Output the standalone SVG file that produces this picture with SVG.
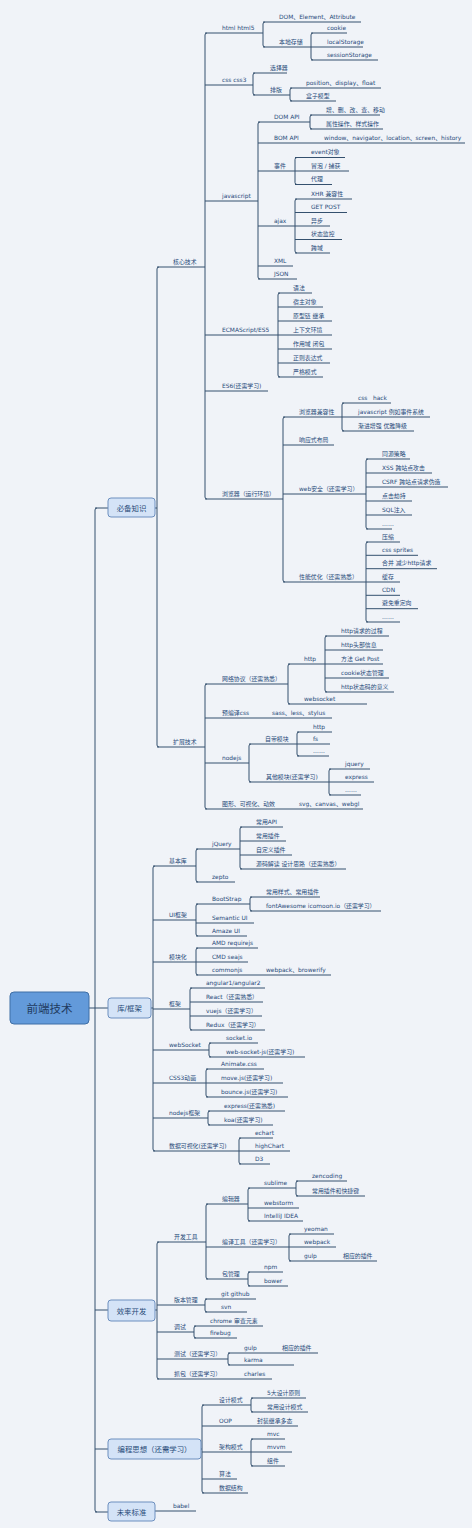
<svg xmlns="http://www.w3.org/2000/svg" width="474" height="1531" viewBox="0 0 474 1531">
<style>
.t{font-family:"DejaVu Sans","Noto Sans CJK SC",sans-serif;font-size:5.9px;fill:#274A78;white-space:pre}
.u,.b{fill:none;stroke:#34506E;stroke-width:1}
.l1{fill:#D4E3F7;stroke:#6C8FBF;stroke-width:1}
.l1t{font-family:"DejaVu Sans","Noto Sans CJK SC",sans-serif;font-size:7.4px;fill:#274A78;text-anchor:middle}
</style>
<rect x="0" y="0" width="474" height="1531" fill="#FFFFFF"/>
<rect x="0" y="0" width="472" height="1528" fill="#F0F3F8"/>
<g id="connectors">
<path class="b" d="M89 1008H108"/>
<path class="b" d="M97 508Q95 508 95 510V1510Q95 1512 97 1512"/>
<path class="b" d="M95 508H108M95 1310H108M95 1449H108M95 1512H108"/>
<path class="b" d="M155 508H157M151 1008H153M155 1310H157M201 1449H202M155 1511H196"/>
<path class="b" d="M159 267Q157 267 157 269V745Q157 747 159 747"/>
<path class="b" d="M207 33Q205 33 205 35V497Q205 499 207 499"/>
<path class="b" d="M265 22Q263 22 263 24V45Q263 47 265 47"/>
<path class="b" d="M313 33Q311 33 311 35V58Q311 60 313 60"/>
<path class="b" d="M255 73Q253 73 253 75V93Q253 95 255 95"/>
<path class="b" d="M292 88Q290 88 290 90V99Q290 101 292 101"/>
<path class="b" d="M260 122Q258 122 258 124V277Q258 279 260 279"/>
<path class="b" d="M312 115Q310 115 310 117V127Q310 129 312 129"/>
<path class="b" d="M297 157.5Q295 157.5 295 159.5V182.5Q295 184.5 297 184.5"/>
<path class="b" d="M297 199Q295 199 295 201V251Q295 253 297 253"/>
<path class="b" d="M280 293Q278 293 278 295V375Q278 377 280 377"/>
<path class="b" d="M285 417Q283 417 283 419V580Q283 582 285 582"/>
<path class="b" d="M344 403Q342 403 342 405V429Q342 431 344 431"/>
<path class="b" d="M368 459Q366 459 366 461V527Q366 529 368 529"/>
<path class="b" d="M368 542Q366 542 366 544V620Q366 622 368 622"/>
<path class="b" d="M207 684Q205 684 205 686V807Q205 809 207 809"/>
<path class="b" d="M290 664Q288 664 288 666V702Q288 704 290 704"/>
<path class="b" d="M327 636Q325 636 325 638V690Q325 692 327 692"/>
<path class="b" d="M251 744Q249 744 249 746V780Q249 782 251 782"/>
<path class="b" d="M299 732Q297 732 297 734V754Q297 756 299 756"/>
<path class="b" d="M331 769Q329 769 329 771V793Q329 795 331 795"/>
<path class="b" d="M155 866Q153 866 153 868V1149Q153 1151 155 1151"/>
<path class="b" d="M198 849Q196 849 196 851V880Q196 882 198 882"/>
<path class="b" d="M242 827Q240 827 240 829V867Q240 869 242 869"/>
<path class="b" d="M198 904Q196 904 196 906V934Q196 936 198 936"/>
<path class="b" d="M252 897Q250 897 250 899V909Q250 911 252 911"/>
<path class="b" d="M198 948Q196 948 196 950V973Q196 975 198 975"/>
<path class="b" d="M192 988Q190 988 190 990V1028Q190 1030 192 1030"/>
<path class="b" d="M211 1043Q209 1043 209 1045V1055Q209 1057 211 1057"/>
<path class="b" d="M208 1069Q206 1069 206 1071V1095Q206 1097 208 1097"/>
<path class="b" d="M210 1111Q208 1111 208 1113V1123Q208 1125 210 1125"/>
<path class="b" d="M241 1138Q239 1138 239 1140V1162Q239 1164 241 1164"/>
<path class="b" d="M159 1242Q157 1242 157 1244V1377Q157 1379 159 1379"/>
<path class="b" d="M208 1204Q206 1204 206 1206V1277Q206 1279 208 1279"/>
<path class="b" d="M250 1188Q248 1188 248 1190V1219Q248 1221 250 1221"/>
<path class="b" d="M298 1181Q296 1181 296 1183V1194Q296 1196 298 1196"/>
<path class="b" d="M291 1234Q289 1234 289 1236V1259Q289 1261 291 1261"/>
<path class="b" d="M250 1272Q248 1272 248 1274V1284Q248 1286 250 1286"/>
<path class="b" d="M207 1299Q205 1299 205 1301V1310Q205 1312 207 1312"/>
<path class="b" d="M196 1326Q194 1326 194 1328V1336Q194 1338 196 1338"/>
<path class="b" d="M230 1353Q228 1353 228 1355V1363Q228 1365 230 1365"/>
<path class="b" d="M204 1405Q202 1405 202 1407V1491Q202 1493 204 1493"/>
<path class="b" d="M253 1398Q251 1398 251 1400V1410Q251 1412 253 1412"/>
<path class="b" d="M253 1439Q251 1439 251 1441V1464Q251 1466 253 1466"/>
</g>
<g id="root"><rect x="10" y="992" width="79" height="32" rx="4" fill="#639ADA" stroke="#3F6FA6"/><text x="49.5" y="1012.5" style="font-family:'Noto Sans CJK SC',sans-serif;font-size:11.5px;fill:#1F3A5F;text-anchor:middle">前端技术</text></g>
<g id="bibei"><rect class="l1" x="108" y="498" width="47" height="19" rx="3"/><text class="l1t" x="131.5" y="510.5">必备知识</text></g>
<g id="kukuangjia"><rect class="l1" x="108" y="998" width="43" height="20" rx="3"/><text class="l1t" x="129.5" y="1011">库/框架</text></g>
<g id="xiaolv"><rect class="l1" x="108" y="1300" width="47" height="21" rx="3"/><text class="l1t" x="131.5" y="1313.5">效率开发</text></g>
<g id="biancheng"><rect class="l1" x="108" y="1439" width="93" height="20" rx="3"/><text class="l1t" x="154.5" y="1452">编程思想（还需学习）</text></g>
<g id="weilai"><rect class="l1" x="108" y="1502" width="47" height="19" rx="3"/><text class="l1t" x="131.5" y="1514.5">未来标准</text></g>

<g id="n-hexin"><path class="u" d="M157 267H205"/><text class="t" x="173" y="263.7">核心技术</text></g>
<g id="n-kuozhan"><path class="u" d="M157 747H205"/><text class="t" x="173" y="743.7">扩展技术</text></g>

<g id="n-html"><path class="u" d="M205 33H263"/><text class="t" x="222" y="29.7">html html5</text></g>
<g id="n-dom"><path class="u" d="M263 22H361"/><text class="t" x="279" y="18.7">DOM、Element、Attribute</text></g>
<g id="n-bendi"><path class="u" d="M263 47H311"/><text class="t" x="279" y="43.7">本地存储</text></g>
<g id="n-cookie"><path class="u" d="M311 33H347"/><text class="t" x="327" y="29.7">cookie</text></g>
<g id="n-local"><path class="u" d="M311 47H363"/><text class="t" x="327" y="43.7">localStorage</text></g>
<g id="n-session"><path class="u" d="M311 60H378"/><text class="t" x="327" y="56.7">sessionStorage</text></g>

<g id="n-css"><path class="u" d="M205 85H253"/><text class="t" x="222" y="81.7">css css3</text></g>
<g id="n-xuanze"><path class="u" d="M253 73H287"/><text class="t" x="270" y="69.7">选择器</text></g>
<g id="n-paiban"><path class="u" d="M253 95H290"/><text class="t" x="270" y="91.7">排版</text></g>
<g id="n-position"><path class="u" d="M290 88H381"/><text class="t" x="306" y="84.7">position、display、float</text></g>
<g id="n-hezi"><path class="u" d="M290 101H336"/><text class="t" x="306" y="97.7">盒子模型</text></g>

<g id="n-js"><path class="u" d="M205 201H258"/><text class="t" x="222" y="197.7">javascript</text></g>
<g id="n-domapi"><path class="u" d="M258 122H310"/><text class="t" x="274" y="118.7">DOM API</text></g>
<g id="n-zeng"><path class="u" d="M310 115H380"/><text class="t" x="326" y="111.7">增、删、改、查、移动</text></g>
<g id="n-shuxing"><path class="u" d="M310 129H383"/><text class="t" x="326" y="125.7">属性操作、样式操作</text></g>
<g id="n-bom"><path class="u" d="M258 143H465"/><text class="t" x="274" y="139.7">BOM API</text><text class="t" x="324" y="139.7">window、navigator、location、screen、history</text></g>
<g id="n-shijian"><path class="u" d="M258 171H295"/><text class="t" x="274" y="167.7">事件</text></g>
<g id="n-event"><path class="u" d="M295 157.5H345"/><text class="t" x="311" y="154.2">event对象</text></g>
<g id="n-maopao"><path class="u" d="M295 171H349"/><text class="t" x="311" y="167.7">冒泡 / 捕获</text></g>
<g id="n-daili"><path class="u" d="M295 184.5H332"/><text class="t" x="311" y="181.2">代理</text></g>
<g id="n-ajax"><path class="u" d="M258 226H295"/><text class="t" x="274" y="222.7">ajax</text></g>
<g id="n-xhr"><path class="u" d="M295 199H352"/><text class="t" x="311" y="195.7">XHR 兼容性</text></g>
<g id="n-get"><path class="u" d="M295 212.5H347"/><text class="t" x="311" y="209.2">GET POST</text></g>
<g id="n-yibu"><path class="u" d="M295 226H330"/><text class="t" x="311" y="222.7">异步</text></g>
<g id="n-zhuangtai"><path class="u" d="M295 239.5H342"/><text class="t" x="311" y="236.2">状态监控</text></g>
<g id="n-kuayu"><path class="u" d="M295 253H330"/><text class="t" x="311" y="249.7">跨域</text></g>
<g id="n-xml"><path class="u" d="M258 266H293"/><text class="t" x="274" y="262.7">XML</text></g>
<g id="n-json"><path class="u" d="M258 279H297"/><text class="t" x="274" y="275.7">JSON</text></g>

<g id="n-es5"><path class="u" d="M205 335H278"/><text class="t" x="222" y="331.7">ECMAScript/ES5</text></g>
<g id="n-yufa"><path class="u" d="M278 293H312"/><text class="t" x="293" y="289.7">语法</text></g>
<g id="n-suzhu"><path class="u" d="M278 307H323"/><text class="t" x="293" y="303.7">宿主对象</text></g>
<g id="n-yuanxing"><path class="u" d="M278 321H332"/><text class="t" x="293" y="317.7">原型链 继承</text></g>
<g id="n-shangxia"><path class="u" d="M278 335H332"/><text class="t" x="293" y="331.7">上下文环境</text></g>
<g id="n-zuoyong"><path class="u" d="M278 349H332"/><text class="t" x="293" y="345.7">作用域 闭包</text></g>
<g id="n-zhengze"><path class="u" d="M278 363H330"/><text class="t" x="293" y="359.7">正则表达式</text></g>
<g id="n-yange"><path class="u" d="M278 377H323"/><text class="t" x="293" y="373.7">严格模式</text></g>

<g id="n-es6"><path class="u" d="M205 391H268"/><text class="t" x="222" y="387.7">ES6(还需学习)</text></g>

<g id="n-liulanqi"><path class="u" d="M205 499H283"/><text class="t" x="222" y="495.7">浏览器（运行环境）</text></g>
<g id="n-jianrong"><path class="u" d="M283 417H342"/><text class="t" x="299" y="413.7">浏览器兼容性</text></g>
<g id="n-csshack"><path class="u" d="M342 403H391"/><text class="t" x="358" y="399.7">css   hack</text></g>
<g id="n-jsevent"><path class="u" d="M342 417H430"/><text class="t" x="358" y="413.7">javascript 例如事件系统</text></g>
<g id="n-jianjin"><path class="u" d="M342 431H414"/><text class="t" x="358" y="427.7">渐进增强 优雅降级</text></g>
<g id="n-xiangying"><path class="u" d="M283 445H334"/><text class="t" x="299" y="441.7">响应式布局</text></g>
<g id="n-websec"><path class="u" d="M283 494H366"/><text class="t" x="299" y="490.7">web安全（还需学习）</text></g>
<g id="n-tongyuan"><path class="u" d="M366 459H410"/><text class="t" x="382" y="455.7">同源策略</text></g>
<g id="n-xss"><path class="u" d="M366 473H432"/><text class="t" x="382" y="469.7">XSS 跨站点攻击</text></g>
<g id="n-csrf"><path class="u" d="M366 487H448"/><text class="t" x="382" y="483.7">CSRF 跨站点请求伪造</text></g>
<g id="n-dianji"><path class="u" d="M366 501H412"/><text class="t" x="382" y="497.7">点击劫持</text></g>
<g id="n-sql"><path class="u" d="M366 515H412"/><text class="t" x="382" y="511.7">SQL注入</text></g>
<g id="n-etc1"><path class="u" d="M366 529H392"/><text class="t" x="382" y="525.7">……</text></g>
<g id="n-xingneng"><path class="u" d="M283 582H366"/><text class="t" x="299" y="578.7">性能优化（还需熟悉）</text></g>
<g id="n-yasuo"><path class="u" d="M366 542H400"/><text class="t" x="382" y="538.7">压缩</text></g>
<g id="n-sprites"><path class="u" d="M366 555.3H418"/><text class="t" x="382" y="552">css sprites</text></g>
<g id="n-hebing"><path class="u" d="M366 568.7H437"/><text class="t" x="382" y="565.4">合并 减少http请求</text></g>
<g id="n-huancun"><path class="u" d="M366 582H400"/><text class="t" x="382" y="578.7">缓存</text></g>
<g id="n-cdn"><path class="u" d="M366 595.3H400"/><text class="t" x="382" y="592">CDN</text></g>
<g id="n-bimian"><path class="u" d="M366 608.7H418"/><text class="t" x="382" y="605.4">避免重定向</text></g>
<g id="n-etc2"><path class="u" d="M366 622H400"/><text class="t" x="382" y="618.7">……</text></g>

<g id="n-wangluo"><path class="u" d="M205 684H288"/><text class="t" x="222" y="680.7">网络协议（还需熟悉）</text></g>
<g id="n-http"><path class="u" d="M288 664H325"/><text class="t" x="304" y="660.7">http</text></g>
<g id="n-httpreq"><path class="u" d="M325 636H389"/><text class="t" x="341" y="632.7">http请求的过程</text></g>
<g id="n-httphead"><path class="u" d="M325 650H383"/><text class="t" x="341" y="646.7">http头部信息</text></g>
<g id="n-fangfa"><path class="u" d="M325 664H383"/><text class="t" x="341" y="660.7">方法 Get Post</text></g>
<g id="n-cookiestate"><path class="u" d="M325 678H389"/><text class="t" x="341" y="674.7">cookie状态管理</text></g>
<g id="n-httpcode"><path class="u" d="M325 692H394"/><text class="t" x="341" y="688.7">http状态码的意义</text></g>
<g id="n-websocket"><path class="u" d="M288 704H367"/><text class="t" x="304" y="700.7">websocket</text></g>
<g id="n-yubianyi"><path class="u" d="M205 718H332"/><text class="t" x="222" y="714.7">预编译css</text><text class="t" x="272" y="714.7">sass、less、stylus</text></g>
<g id="n-nodejs"><path class="u" d="M205 763H249"/><text class="t" x="222" y="759.7">nodejs</text></g>
<g id="n-zidai"><path class="u" d="M249 744H297"/><text class="t" x="265" y="740.7">自带模块</text></g>
<g id="n-nhttp"><path class="u" d="M297 732H332"/><text class="t" x="313" y="728.7">http</text></g>
<g id="n-fs"><path class="u" d="M297 744H330"/><text class="t" x="313" y="740.7">fs</text></g>
<g id="n-etc3"><path class="u" d="M297 756H329"/><text class="t" x="313" y="752.7">……</text></g>
<g id="n-qita"><path class="u" d="M249 782H329"/><text class="t" x="266" y="778.7">其他模块(还需学习)</text></g>
<g id="n-njquery"><path class="u" d="M329 769H370"/><text class="t" x="345" y="765.7">jquery</text></g>
<g id="n-nexpress"><path class="u" d="M329 782H374"/><text class="t" x="345" y="778.7">express</text></g>
<g id="n-etc4"><path class="u" d="M329 795H361"/><text class="t" x="345" y="791.7">……</text></g>
<g id="n-tuxing"><path class="u" d="M205 809H363"/><text class="t" x="222" y="805.7">图形、可视化、动效</text><text class="t" x="299" y="805.7">svg、canvas、webgl</text></g>

<g id="n-jiben"><path class="u" d="M153 866H196"/><text class="t" x="169" y="862.7">基本库</text></g>
<g id="n-jquery"><path class="u" d="M196 849H240"/><text class="t" x="212" y="845.7">jQuery</text></g>
<g id="n-api"><path class="u" d="M240 827H283"/><text class="t" x="256" y="823.7">常用API</text></g>
<g id="n-chajian"><path class="u" d="M240 841H286"/><text class="t" x="256" y="837.7">常用插件</text></g>
<g id="n-zidingyi"><path class="u" d="M240 855H292"/><text class="t" x="256" y="851.7">自定义插件</text></g>
<g id="n-yuanma"><path class="u" d="M240 869H346"/><text class="t" x="256" y="865.7">源码解读 设计思路（还需熟悉）</text></g>
<g id="n-zepto"><path class="u" d="M196 882H235"/><text class="t" x="212" y="878.7">zepto</text></g>
<g id="n-ui"><path class="u" d="M153 920H196"/><text class="t" x="169" y="916.7">UI框架</text></g>
<g id="n-bootstrap"><path class="u" d="M196 904H250"/><text class="t" x="212" y="900.7">BootStrap</text></g>
<g id="n-yangshi"><path class="u" d="M250 897H320"/><text class="t" x="266" y="893.7">常用样式、常用插件</text></g>
<g id="n-fontawesome"><path class="u" d="M250 911H381"/><text class="t" x="266" y="907.7">fontAwesome icomoon.io（还需学习）</text></g>
<g id="n-semantic"><path class="u" d="M196 923H254"/><text class="t" x="212" y="919.7">Semantic UI</text></g>
<g id="n-amaze"><path class="u" d="M196 936H247"/><text class="t" x="212" y="932.7">Amaze UI</text></g>
<g id="n-mokuai"><path class="u" d="M153 962H196"/><text class="t" x="169" y="958.7">模块化</text></g>
<g id="n-amd"><path class="u" d="M196 948H258"/><text class="t" x="212" y="944.7">AMD requirejs</text></g>
<g id="n-cmd"><path class="u" d="M196 962H248"/><text class="t" x="212" y="958.7">CMD seajs</text></g>
<g id="n-commonjs"><path class="u" d="M196 975H331"/><text class="t" x="212" y="971.7">commonjs</text><text class="t" x="266" y="971.7">webpack、browerify</text></g>
<g id="n-kuangjia"><path class="u" d="M153 1009H190"/><text class="t" x="169" y="1005.7">框架</text></g>
<g id="n-angular"><path class="u" d="M190 988H265"/><text class="t" x="206" y="984.7">angular1/angular2</text></g>
<g id="n-react"><path class="u" d="M190 1002H263"/><text class="t" x="206" y="998.7">React（还需熟悉）</text></g>
<g id="n-vue"><path class="u" d="M190 1016H262"/><text class="t" x="206" y="1012.7">vuejs（还需学习）</text></g>
<g id="n-redux"><path class="u" d="M190 1030H265"/><text class="t" x="206" y="1026.7">Redux（还需学习）</text></g>
<g id="n-websocket2"><path class="u" d="M153 1050H209"/><text class="t" x="169" y="1046.7">webSocket</text></g>
<g id="n-socketio"><path class="u" d="M209 1043H258"/><text class="t" x="226" y="1039.7">socket.io</text></g>
<g id="n-wsjs"><path class="u" d="M209 1057H305"/><text class="t" x="226" y="1053.7">web-socket-js(还需学习)</text></g>
<g id="n-css3dh"><path class="u" d="M153 1083H206"/><text class="t" x="169" y="1079.7">CSS3动画</text></g>
<g id="n-animate"><path class="u" d="M206 1069H264"/><text class="t" x="221" y="1065.7">Animate.css</text></g>
<g id="n-move"><path class="u" d="M206 1083H283"/><text class="t" x="221" y="1079.7">move.js(还需学习)</text></g>
<g id="n-bounce"><path class="u" d="M206 1097H288"/><text class="t" x="221" y="1093.7">bounce.js(还需学习)</text></g>
<g id="n-nodefw"><path class="u" d="M153 1118H208"/><text class="t" x="169" y="1114.7">nodejs框架</text></g>
<g id="n-express"><path class="u" d="M208 1111H285"/><text class="t" x="224" y="1107.7">express(还需熟悉)</text></g>
<g id="n-koa"><path class="u" d="M208 1125H273"/><text class="t" x="224" y="1121.7">koa(还需学习)</text></g>
<g id="n-shuju"><path class="u" d="M153 1151H239"/><text class="t" x="169" y="1147.7">数据可视化(还需学习)</text></g>
<g id="n-echart"><path class="u" d="M239 1138H273"/><text class="t" x="255" y="1134.7">echart</text></g>
<g id="n-highchart"><path class="u" d="M239 1151H290"/><text class="t" x="255" y="1147.7">highChart</text></g>
<g id="n-d3"><path class="u" d="M239 1164H270"/><text class="t" x="255" y="1160.7">D3</text></g>

<g id="n-kaifa"><path class="u" d="M157 1242H206"/><text class="t" x="174" y="1238.7">开发工具</text></g>
<g id="n-bianji"><path class="u" d="M206 1204H248"/><text class="t" x="222" y="1200.7">编辑器</text></g>
<g id="n-sublime"><path class="u" d="M248 1188H296"/><text class="t" x="264" y="1184.7">sublime</text></g>
<g id="n-zencoding"><path class="u" d="M296 1181H347"/><text class="t" x="312" y="1177.7">zencoding</text></g>
<g id="n-kuaijie"><path class="u" d="M296 1196H365"/><text class="t" x="312" y="1192.7">常用插件和快捷键</text></g>
<g id="n-webstorm"><path class="u" d="M248 1208H299"/><text class="t" x="264" y="1204.7">webstorm</text></g>
<g id="n-idea"><path class="u" d="M248 1221H303"/><text class="t" x="264" y="1217.7">IntelliJ IDEA</text></g>
<g id="n-bianyi"><path class="u" d="M206 1247H289"/><text class="t" x="222" y="1243.7">编译工具（还需学习）</text></g>
<g id="n-yeoman"><path class="u" d="M289 1234H334"/><text class="t" x="304" y="1230.7">yeoman</text></g>
<g id="n-webpack"><path class="u" d="M289 1247H336"/><text class="t" x="304" y="1243.7">webpack</text></g>
<g id="n-gulp1"><path class="u" d="M289 1261H377"/><text class="t" x="304" y="1257.7">gulp</text><text class="t" x="343" y="1257.7">相应的插件</text></g>
<g id="n-bao"><path class="u" d="M206 1279H248"/><text class="t" x="222" y="1275.7">包管理</text></g>
<g id="n-npm"><path class="u" d="M248 1272H283"/><text class="t" x="264" y="1268.7">npm</text></g>
<g id="n-bower"><path class="u" d="M248 1286H288"/><text class="t" x="264" y="1282.7">bower</text></g>
<g id="n-banben"><path class="u" d="M157 1305H205"/><text class="t" x="174" y="1301.7">版本管理</text></g>
<g id="n-git"><path class="u" d="M205 1299H256"/><text class="t" x="221" y="1295.7">git github</text></g>
<g id="n-svn"><path class="u" d="M205 1312H247"/><text class="t" x="221" y="1308.7">svn</text></g>
<g id="n-tiaoshi"><path class="u" d="M157 1332H194"/><text class="t" x="174" y="1328.7">调试</text></g>
<g id="n-chrome"><path class="u" d="M194 1326H263"/><text class="t" x="210" y="1322.7">chrome 审查元素</text></g>
<g id="n-firebug"><path class="u" d="M194 1338H237"/><text class="t" x="210" y="1334.7">firebug</text></g>
<g id="n-ceshi"><path class="u" d="M157 1359H228"/><text class="t" x="174" y="1355.7">测试（还需学习）</text></g>
<g id="n-gulp2"><path class="u" d="M228 1353H318"/><text class="t" x="244" y="1349.7">gulp</text><text class="t" x="282" y="1349.7">相应的插件</text></g>
<g id="n-karma"><path class="u" d="M228 1365H294"/><text class="t" x="244" y="1361.7">karma</text></g>
<g id="n-zhuabao"><path class="u" d="M157 1379H272"/><text class="t" x="174" y="1375.7">抓包（还需学习）</text><text class="t" x="244" y="1375.7">charles</text></g>

<g id="n-sheji"><path class="u" d="M202 1405H251"/><text class="t" x="219" y="1401.7">设计模式</text></g>
<g id="n-wuda"><path class="u" d="M251 1398H306"/><text class="t" x="267" y="1394.7">5大设计原则</text></g>
<g id="n-changyong"><path class="u" d="M251 1412H308"/><text class="t" x="267" y="1408.7">常用设计模式</text></g>
<g id="n-oop"><path class="u" d="M202 1426H298"/><text class="t" x="219" y="1422.7">OOP</text><text class="t" x="257" y="1422.7">封装继承多态</text></g>
<g id="n-jiagou"><path class="u" d="M202 1452H251"/><text class="t" x="219" y="1448.7">架构模式</text></g>
<g id="n-mvc"><path class="u" d="M251 1439H285"/><text class="t" x="267" y="1435.7">mvc</text></g>
<g id="n-mvvm"><path class="u" d="M251 1452H292"/><text class="t" x="267" y="1448.7">mvvm</text></g>
<g id="n-zujian"><path class="u" d="M251 1466H285"/><text class="t" x="267" y="1462.7">组件</text></g>
<g id="n-suanfa"><path class="u" d="M202 1479H237"/><text class="t" x="219" y="1475.7">算法</text></g>
<g id="n-shujujiegou"><path class="u" d="M202 1493H248"/><text class="t" x="219" y="1489.7">数据结构</text></g>

<g id="n-babel"><text class="t" x="173" y="1507.7">babel</text></g>
</svg>
